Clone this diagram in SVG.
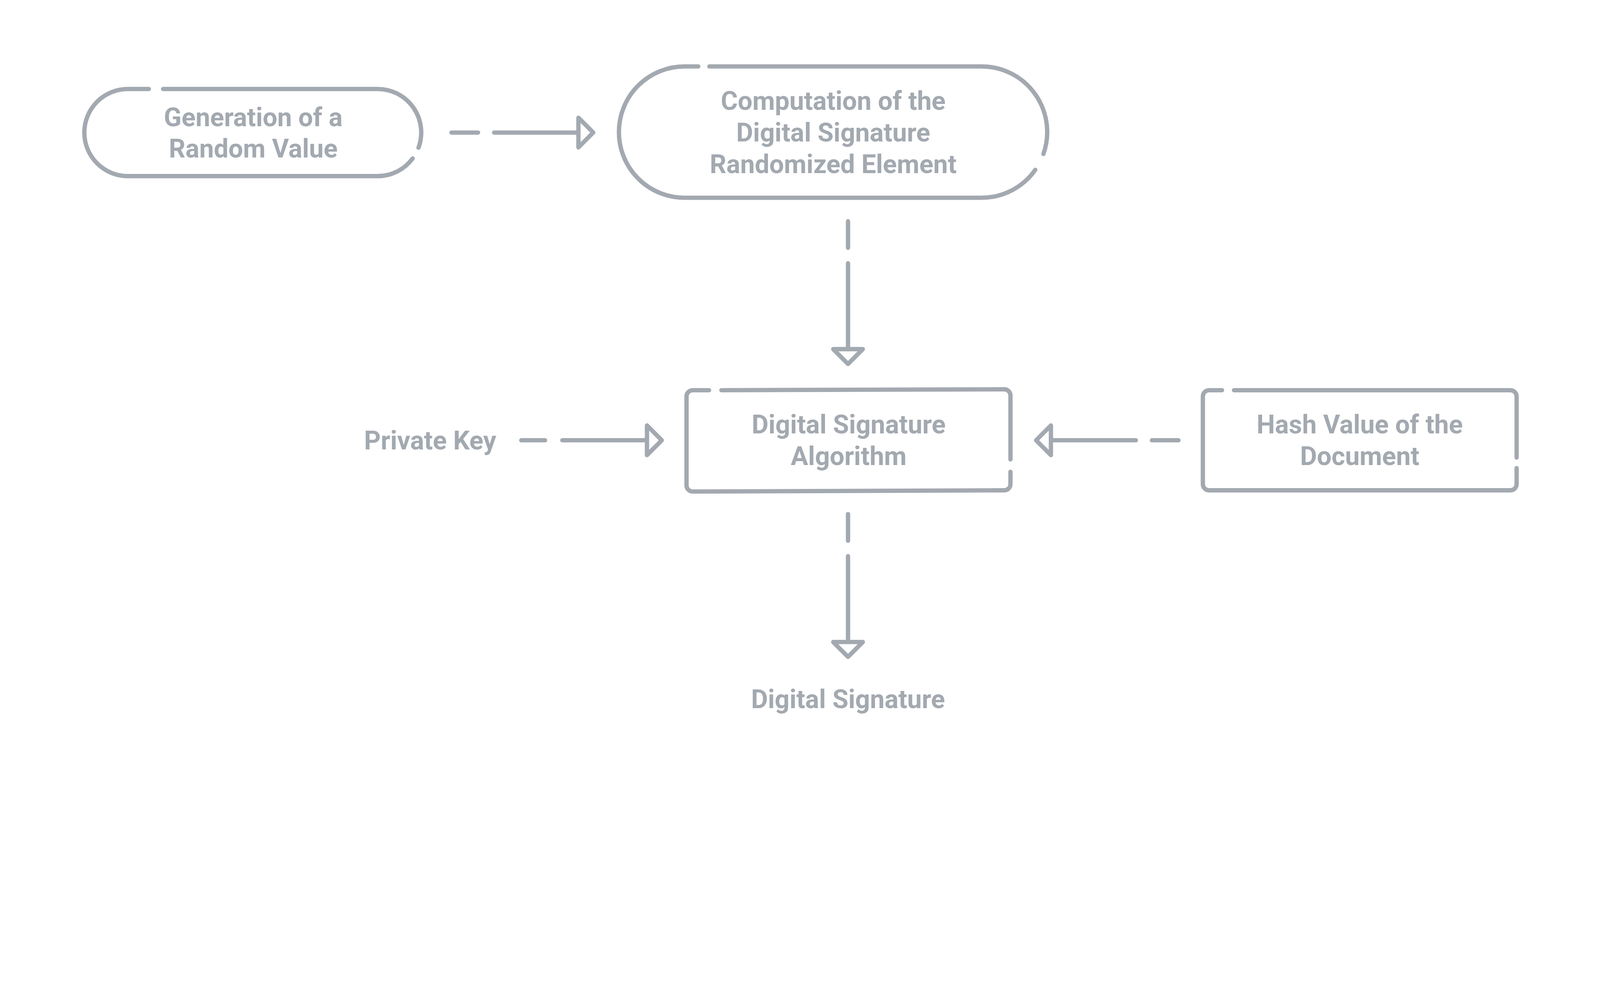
<svg xmlns="http://www.w3.org/2000/svg" width="5181" height="2523" viewBox="0 0 5181 2523" preserveAspectRatio="xMidYMin meet">
  <style>
    :root { width: 100vw; height: 100vh; display: block; }
    .shape { fill: none; stroke: #a3a9b0; stroke-width: 14; stroke-linecap: round; stroke-linejoin: round; }
    .conn { fill: none; stroke: #a3a9b0; stroke-width: 14; stroke-linecap: round; }
    .label { font-family: Roboto, "Liberation Sans", sans-serif; font-weight: 700; font-size: 84px; fill: #a3a9b0; text-anchor: middle; }
  </style>
  <defs>
    <marker id="arrow" markerUnits="userSpaceOnUse" viewBox="-12 -62 74 124" markerWidth="74" markerHeight="124" refX="0" refY="0" orient="auto" overflow="visible">
      <path d="M0,-48 L48,0 L0,48 Z" fill="#ffffff" stroke="#a3a9b0" stroke-width="14" stroke-linejoin="round"/>
    </marker>
  </defs>
  <rect width="5181" height="2523" fill="#ffffff"/>

  <g id="connectors">
    <path class="conn" d="M1462 429 H1548"/>
    <path class="conn" d="M1600 429 H1873" marker-end="url(#arrow)"/>
    <path class="conn" d="M2746 716 V802"/>
    <path class="conn" d="M2746 852 V1130" marker-end="url(#arrow)"/>
    <path class="conn" d="M1688 1425 H1765"/>
    <path class="conn" d="M1821 1425 H2095" marker-end="url(#arrow)"/>
    <path class="conn" d="M3816 1425 H3730"/>
    <path class="conn" d="M3678 1425 H3403" marker-end="url(#arrow)"/>
    <path class="conn" d="M2746 1664 V1750"/>
    <path class="conn" d="M2746 1800 V2078" marker-end="url(#arrow)"/>
  </g>

  <g id="node-random-value">
    <path class="shape" d="M528 288 H1223 A141 141 0 0 1 1355.2 478 M1336.2 513 A141 141 0 0 1 1223 570 H414 A141 141 0 0 1 414 288 H482"/>
    <text class="label" x="820" y="408">Generation of a</text>
    <text class="label" x="820" y="510">Random Value</text>
  </g>

  <g id="node-randomized-element">
    <path class="shape" d="M2297 215 H3178.5 A212.5 212.5 0 0 1 3378.8 498.4 M3352.3 549.7 A212.5 212.5 0 0 1 3178.5 640 H2216.5 A212.5 212.5 0 0 1 2216.5 215 H2261"/>
    <text class="label" x="2698" y="356">Computation of the</text>
    <text class="label" x="2698" y="458">Digital Signature</text>
    <text class="label" x="2698" y="560">Randomized Element</text>
  </g>

  <g id="node-private-key">
    <text class="label" x="1393" y="1455">Private Key</text>
  </g>

  <g id="node-algorithm">
    <path class="shape" d="M2336 1262.9 L3252 1260 A20 20 0 0 1 3272 1280 V1487 M3272 1527 V1567 A20 20 0 0 1 3252 1587 L2243 1591 A20 20 0 0 1 2223 1571 V1283 A20 20 0 0 1 2243 1263 H2296"/>
    <text class="label" x="2748" y="1403">Digital Signature</text>
    <text class="label" x="2748" y="1505">Algorithm</text>
  </g>

  <g id="node-hash-value">
    <path class="shape" d="M3996 1263 H4891 A20 20 0 0 1 4911 1283 V1481 M4911 1515 V1567 A20 20 0 0 1 4891 1587 H3915 A20 20 0 0 1 3895 1567 V1283 A20 20 0 0 1 3915 1263 H3957"/>
    <text class="label" x="4403" y="1403">Hash Value of the</text>
    <text class="label" x="4403" y="1505">Document</text>
  </g>

  <g id="node-digital-signature">
    <text class="label" x="2746" y="2292">Digital Signature</text>
  </g>
</svg>
